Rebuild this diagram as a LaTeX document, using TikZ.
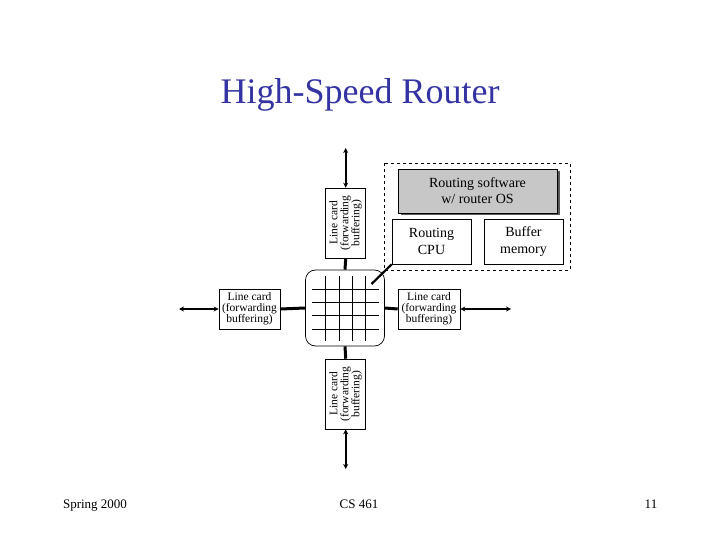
\documentclass[tikz,border=0pt]{standalone}
\usepackage{fontspec}
\setmainfont{Liberation Serif}
\usetikzlibrary{shadows,arrows.meta}
\begin{document}
\begin{tikzpicture}[x=1pt,y=-1pt,
  box/.style={draw,line width=0.6pt,inner sep=0pt,align=center,font=\fontsize{11.5}{11}\selectfont},
  link/.style={line width=3pt},
  ext/.style={line width=2pt,{Stealth[length=5pt,width=5pt]}-{Stealth[length=5pt,width=5pt]}},
  grid/.style={line width=0.8pt},
  foot/.style={font=\fontsize{13}{13}\selectfont,anchor=base}]
\useasboundingbox (0,0) rectangle (720,540);
\node[font=\fontsize{36}{36}\selectfont,text=blue!55!black!80!white] (title) at (360,95) {High-Speed Router};
\draw[dashed,line width=0.7pt] (384,163) rectangle (570,270);
\fill[black!65] (400.5,171.5) rectangle (559.5,215.5);
\node[box,fill=black!22!white,minimum width=159pt,minimum height=44pt,font=\fontsize{14}{16}\selectfont] (sw) at (477.5,191) {Routing software\\w/ router OS};
\node[box,minimum width=79pt,minimum height=45pt,font=\fontsize{14}{17}\selectfont] (cpu) at (431.5,241.5) {Routing\\CPU};
\node[box,minimum width=79pt,minimum height=45pt,font=\fontsize{14}{17}\selectfont] (mem) at (523.5,241.5) {Buffer\\memory};
\node[draw,line width=0.7pt,rounded corners=10pt,minimum width=79pt,minimum height=76pt] (fab) at (345,308) {};
\foreach \x in {325.7,339,352.3,365.7} \draw[grid] (\x,275.7) -- (\x,341);
\foreach \y in {289.3,302.3,315.7,329} \draw[grid] (312,\y) -- (379,\y);
\coordinate (diag) at (371.5,284);
\draw[line width=2.2pt] (diag) -- (cpu.south west);
\node[box,minimum width=70pt,minimum height=40pt,rotate=90] (top) at (345.7,223) {Line card\\(forwarding\\buffering)};
\node[box,minimum width=70pt,minimum height=40pt,rotate=90] (bot) at (345.7,394) {Line card\\(forwarding\\buffering)};
\node[box,minimum width=61pt,minimum height=40pt] (lft) at (249.5,309) {Line card\\(forwarding\\buffering)};
\node[box,minimum width=62pt,minimum height=40pt] (rgt) at (429,309) {Line card\\(forwarding\\buffering)};
\coordinate (tEnd) at (345.7,148);
\coordinate (bEnd) at (345.7,469);
\coordinate (lEnd) at (179,309);
\coordinate (rEnd) at (511,309);
\draw[link] (top.west) -- (fab.north);
\draw[link] (bot.east) -- (fab.south);
\draw[link] (lft.east) -- (fab.west);
\draw[link] (rgt.west) -- (fab.east);
\draw[ext] (tEnd) -- (top.east);
\draw[ext] (bEnd) -- (bot.west);
\draw[ext] (lEnd) -- (lft.west);
\draw[ext] (rEnd) -- (rgt.east);
\node[foot] (f1) at (95,508) {Spring 2000};
\node[foot] (f2) at (359,508) {CS 461};
\node[foot] (f3) at (651,508) {11};
\end{tikzpicture}
\end{document}
